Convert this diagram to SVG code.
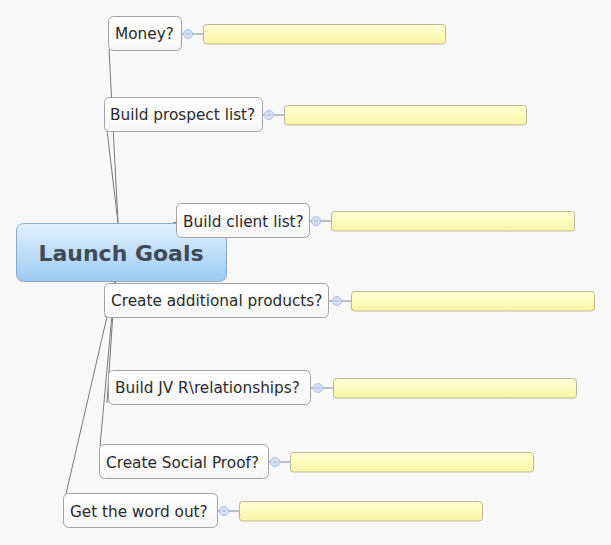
<svg xmlns="http://www.w3.org/2000/svg" width="611" height="545" viewBox="0 0 611 545">
<defs>
<linearGradient id="gCenter" x1="0" y1="0" x2="0" y2="1">
<stop offset="0" stop-color="#e2f1fd"/>
<stop offset="1" stop-color="#9ccbf3"/>
</linearGradient>
<linearGradient id="gNode" x1="0" y1="0" x2="0" y2="1">
<stop offset="0" stop-color="#ffffff"/>
<stop offset="1" stop-color="#f6f6f6"/>
</linearGradient>
<linearGradient id="gBar" x1="0" y1="0" x2="0" y2="1">
<stop offset="0" stop-color="#ffffd6"/>
<stop offset="1" stop-color="#fbf5a6"/>
</linearGradient>
<g id="dot">
<circle r="4.5" fill="#d4e0f6" stroke="#a9bfe6" stroke-width="1"/>
<line x1="-2" y1="0" x2="2" y2="0" stroke="#9fb4dc" stroke-width="1"/>
</g>
</defs>
<style>
.bg{fill:#f8f8f8}
.center{fill:url(#gCenter);stroke:#8fa9c2;stroke-width:1}
.node{fill:url(#gNode);stroke:#a2a2a2;stroke-width:1}
.bar{fill:url(#gBar);stroke:#bdb894;stroke-width:1}
.txt{font-family:"DejaVu Sans",Verdana,sans-serif;font-size:15.3px;fill:#2a2a2a}
.ctxt{font-family:"DejaVu Sans",Verdana,sans-serif;font-size:22px;font-weight:bold;fill:#3e4a55}
.conn{stroke:#7a7a7a;stroke-width:1;fill:none}
.stub{stroke:#8d99a6;stroke-width:1.2;fill:none}
</style>
<rect class="bg" x="0" y="0" width="611" height="545"/>
<g id="connectors">
<line class="conn" x1="118" y1="223" x2="109" y2="49"/>
<line class="conn" x1="118" y1="223" x2="107" y2="130"/>
<line class="conn" x1="173" y1="223" x2="177" y2="222"/>
<line class="conn" x1="115" y1="282" x2="105" y2="317"/>
<line class="conn" x1="115" y1="282" x2="107" y2="403"/>
<line class="conn" x1="115" y1="282" x2="100" y2="446"/>
<line class="conn" x1="115" y1="282" x2="66" y2="494"/>
<line class="stub" x1="181" y1="34" x2="203" y2="34"/>
<line class="stub" x1="262" y1="115" x2="284" y2="115"/>
<line class="stub" x1="309" y1="221" x2="331" y2="221"/>
<line class="stub" x1="328" y1="301" x2="351" y2="301"/>
<line class="stub" x1="310" y1="388" x2="333" y2="388"/>
<line class="stub" x1="268" y1="462" x2="290" y2="462"/>
<line class="stub" x1="217" y1="511" x2="239" y2="511"/>
</g>
<g id="center">
<rect class="center" x="16.5" y="223.5" width="210" height="58" rx="7"/>
<text class="ctxt" x="121" y="261" text-anchor="middle" textLength="165" lengthAdjust="spacingAndGlyphs">Launch Goals</text>
</g>
<g id="n-money">
<rect class="node" x="108.5" y="16.5" width="73" height="34" rx="5"/>
<text class="txt" x="115" y="39">Money?</text>
<use href="#dot" x="188" y="34"/>
<rect class="bar" x="203.5" y="24.5" width="242" height="19.5" rx="3"/>
</g>
<g id="n-prospect">
<rect class="node" x="104.5" y="97.5" width="158" height="34" rx="5"/>
<text class="txt" x="110" y="120">Build prospect list?</text>
<use href="#dot" x="269" y="115"/>
<rect class="bar" x="284.5" y="105.5" width="242" height="19.5" rx="3"/>
</g>
<g id="n-client">
<rect class="node" x="176.5" y="203.5" width="133" height="34" rx="5"/>
<text class="txt" x="183" y="227">Build client list?</text>
<use href="#dot" x="316" y="221"/>
<rect class="bar" x="331.5" y="211.5" width="243" height="19.5" rx="3"/>
</g>
<g id="n-products">
<rect class="node" x="104.5" y="283.5" width="224" height="34" rx="5"/>
<text class="txt" x="111" y="306">Create additional products?</text>
<use href="#dot" x="337" y="301"/>
<rect class="bar" x="351.5" y="291.5" width="243" height="19.5" rx="3"/>
</g>
<g id="n-jv">
<rect class="node" x="108.5" y="370.5" width="202" height="34" rx="5"/>
<text class="txt" x="115" y="393">Build JV R\relationships?</text>
<use href="#dot" x="318" y="388"/>
<rect class="bar" x="333.5" y="378.5" width="243" height="19.5" rx="3"/>
</g>
<g id="n-social">
<rect class="node" x="99.5" y="444.5" width="169" height="34" rx="5"/>
<text class="txt" x="106" y="468">Create Social Proof?</text>
<use href="#dot" x="275" y="462"/>
<rect class="bar" x="290.5" y="452.5" width="243" height="19.5" rx="3"/>
</g>
<g id="n-word">
<rect class="node" x="63.5" y="493.5" width="154" height="34" rx="5"/>
<text class="txt" x="70" y="517">Get the word out?</text>
<use href="#dot" x="224" y="511"/>
<rect class="bar" x="239.5" y="501.5" width="243" height="19.5" rx="3"/>
</g>
</svg>
